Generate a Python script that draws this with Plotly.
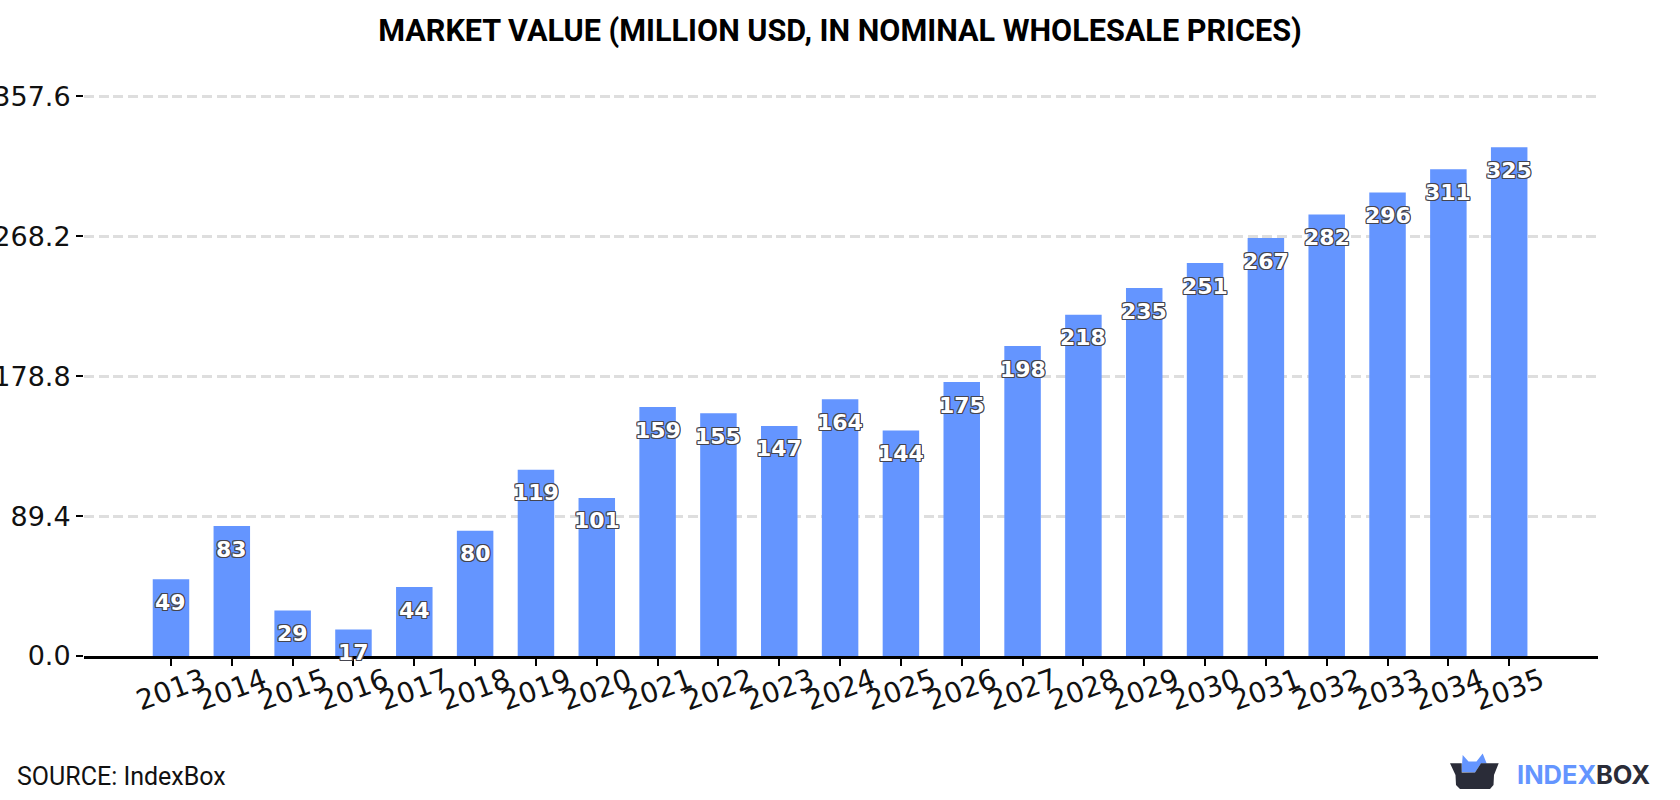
import plotly.graph_objects as go

years = [str(y) for y in range(2013, 2036)]
values = [49, 83, 29, 17, 44, 80, 119, 101, 159, 155, 147, 164, 144, 175, 198, 218, 235, 251, 267, 282, 296, 311, 325]
y_ticks = [0.0, 89.4, 178.8, 268.2, 357.6]
y_tick_labels = ["0.0", "89.4", "178.8", "268.2", "357.6"]

WIDTH, HEIGHT = 1680, 800
M_L, M_R, M_T, M_B = 84, 82, 94, 144
PLOT_W = WIDTH - M_L - M_R
PLOT_H = HEIGHT - M_T - M_B

BAR = "#6495FF"
DARK = "#2A2C38"


def px(x):
    return (x - M_L) / PLOT_W


def py(y):
    return 1 - (y - M_T) / PLOT_H


def path(points):
    return "M " + " L ".join(f"{px(x):.5f},{py(y):.5f}" for x, y in points) + " Z"


def page_text(text, x, y, size, color, family, weight="normal", xanchor="left"):
    return dict(
        text=text, x=px(x), y=py(y), xref="paper", yref="paper", showarrow=False,
        xanchor=xanchor, yanchor="middle", align="left", xshift=-2,
        font=dict(family=family, size=size, color=color, weight=weight),
    )


outline = ",".join(
    f"{dx}px {dy}px 0.5px #45454f"
    for dx, dy in [(-1, -1), (1, -1), (-1, 1), (1, 1), (-1, 0), (1, 0), (0, -1), (0, 1)]
)

fig = go.Figure(
    go.Bar(x=years, y=values, width=0.6, marker=dict(color=BAR, line=dict(width=0)), hoverinfo="x+y")
)

# Value labels sit a fixed distance below each bar top; x is the category index.
annotations = [
    dict(
        x=i, y=val, xref="x", yref="y", text=str(val), showarrow=False, yshift=-23,
        xanchor="center", yanchor="middle",
        font=dict(family="DejaVu Sans", size=22, color="white", weight="bold", shadow=outline),
    )
    for i, val in enumerate(values)
]
annotations += [
    page_text("SOURCE: IndexBox", 17, 776, 25, "#111111", "Roboto"),
    page_text("INDEX", 1517, 774, 25.5, BAR, "Inter", "bold"),
    page_text("BOX", 1596, 774, 25.5, DARK, "Inter", "bold"),
]

# Open-box logo in the lower right corner.
logo_shapes = [
    dict(
        type="path", xref="paper", yref="paper", fillcolor=BAR, line=dict(width=0), layer="above",
        path=path([(1461.5, 772), (1462.7, 755), (1468.5, 761.5), (1476.5, 761.5),
                   (1482.7, 753.5), (1486.7, 763.5), (1481, 763.5), (1475, 772.5)]),
    ),
    dict(
        type="path", xref="paper", yref="paper", fillcolor=DARK, line=dict(width=0), layer="above",
        path=path([(1450, 763.3), (1461.7, 763.3), (1461.7, 772.5), (1475, 772.5), (1481, 763.3),
                   (1498.7, 763.3), (1494, 775), (1493.5, 785), (1490, 789), (1460, 789),
                   (1456, 785), (1455.5, 775)]),
    ),
]

fig.update_layout(
    width=WIDTH,
    height=HEIGHT,
    margin=dict(l=M_L, r=M_R, t=M_T, b=M_B, autoexpand=False),
    paper_bgcolor="white",
    plot_bgcolor="white",
    showlegend=False,
    bargap=0.4,
    title=dict(
        text="MARKET VALUE (MILLION USD, IN NOMINAL WHOLESALE PRICES)",
        x=0.5, xref="container", xanchor="center",
        y=1 - 30 / HEIGHT, yref="container", yanchor="middle",
        font=dict(family="Roboto", size=30.6, color="#000000", weight="bold"),
    ),
    xaxis=dict(
        type="category",
        categoryorder="array",
        categoryarray=years,
        range=[-1.43, 23.46],
        showgrid=False,
        showline=True,
        linecolor="black",
        linewidth=2.5,
        ticks="outside",
        ticklen=7,
        tickwidth=2,
        tickcolor="black",
        tickangle=-20,
        ticklabelshift=32,
        ticklabelstandoff=-12,
        tickfont=dict(family="DejaVu Sans", size=28, color="#111111"),
        zeroline=False,
        fixedrange=True,
    ),
    yaxis=dict(
        range=[0, 359.0],
        tickmode="array",
        tickvals=y_ticks,
        ticktext=y_tick_labels,
        showgrid=True,
        gridcolor="#DEDEDE",
        gridwidth=2.5,
        griddash="10px,4.73px",
        ticks="outside",
        ticklen=7,
        tickwidth=2,
        tickcolor="black",
        tickfont=dict(family="DejaVu Sans", size=27, color="#111111"),
        showline=False,
        zeroline=False,
        automargin=False,
        fixedrange=True,
    ),
    annotations=annotations,
    shapes=logo_shapes,
)

fig.write_html("out.html", config={"displayModeBar": False})
